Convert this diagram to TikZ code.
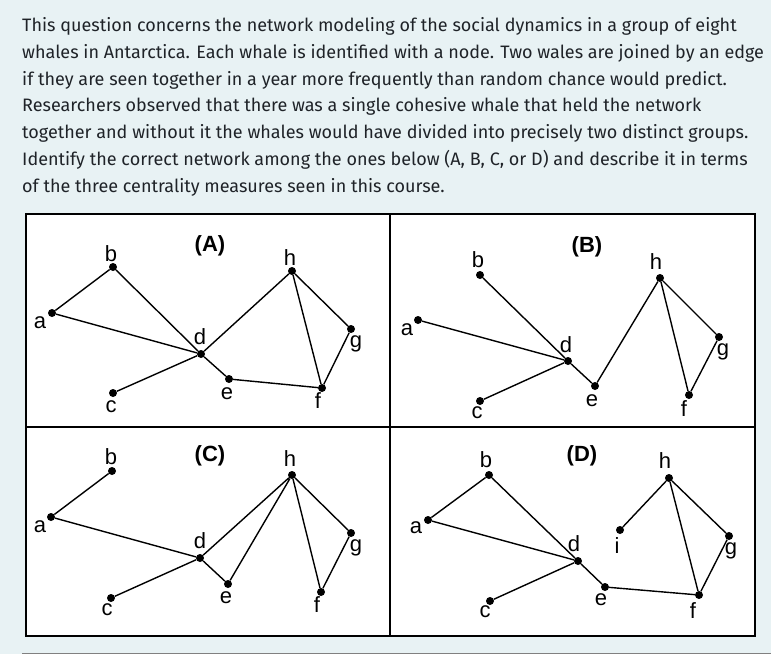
\documentclass[tikz,border=0pt]{standalone}
\usepackage{fontspec}
\setmainfont{Fira Sans}
\newfontfamily\lblfont{Liberation Sans}
\definecolor{bgc}{HTML}{E8F2F4}
\definecolor{txc}{HTML}{1F2328}
\begin{document}
\begin{tikzpicture}[x=1pt,y=-1pt,
  dot/.style={circle,fill=black,inner sep=0pt,minimum size=8pt},
  lbl/.style={inner sep=0pt,font=\lblfont\fontsize{22}{22}\selectfont},
  ttl/.style={inner sep=0pt,font=\lblfont\bfseries\fontsize{22}{22}\selectfont},
  edge/.style={line width=1.4pt},
  para/.style={anchor=base west,inner sep=0pt,text=txc,font=\fontsize{18}{18}\selectfont}]
\useasboundingbox (0,0) rectangle (771,654);
\fill[bgc] (0,0) rectangle (771,654);
\node[para] (t1) at (22,31) {This question concerns the network modeling of the social dynamics in a group of eight};
\node[para] (t2) at (22,58) {whales in Antarctica. Each whale is identified with a node. Two wales are joined by an edge};
\node[para] (t3) at (22,85) {if they are seen together in a year more frequently than random chance would predict.};
\node[para] (t4) at (22,111) {Researchers observed that there was a single cohesive whale that held the network};
\node[para] (t5) at (22,138) {together and without it the whales would have divided into precisely two distinct groups.};
\node[para] (t6) at (22,165) {Identify the correct network among the ones below (A, B, C, or D) and describe it in terms};
\node[para] (t7) at (22,192) {of the three centrality measures seen in this course.};
\draw[fill=white,line width=1.3pt] (26,214) rectangle (755,636);
\draw[line width=1.3pt] (390,214) -- (390,636);
\draw[line width=1.3pt] (26,427) -- (755,427);
\draw[gray,line width=0.8pt] (22,653) -- (771,653);
% Panel A
\node[ttl] (TA) at (210,246) {(A)};
\node[dot] (Aa) at (52,313) {}; \node[lbl] at (40,323) {a};
\node[dot] (Ab) at (113,267) {}; \node[lbl] at (111,254) {b};
\node[dot] (Ac) at (113,393) {}; \node[lbl] at (111,407) {c};
\node[dot] (Ad) at (201,354) {}; \node[lbl] at (200,337) {d};
\node[dot] (Ae) at (229,379) {}; \node[lbl] at (227,394) {e};
\node[dot] (Af) at (322,388) {}; \node[lbl] at (318,401) {f};
\node[dot] (Ag) at (351,329) {}; \node[lbl] at (356,344) {g};
\node[dot] (Ah) at (292,271) {}; \node[lbl] at (290,258) {h};
\draw[edge] (Aa)--(Ab) (Ab)--(Ad) (Aa)--(Ad) (Ac)--(Ad) (Ad)--(Ah) (Ad)--(Ae) (Ae)--(Af) (Ah)--(Af) (Ah)--(Ag) (Ag)--(Af);
% Panel B
\node[ttl] (TB) at (587,247) {(B)};
\node[dot] (Ba) at (418,320) {}; \node[lbl] at (407,330) {a};
\node[dot] (Bb) at (480,275) {}; \node[lbl] at (478,260) {b};
\node[dot] (Bc) at (480,401) {}; \node[lbl] at (477,413) {c};
\node[dot] (Bd) at (568,361) {}; \node[lbl] at (566,345) {d};
\node[dot] (Be) at (595,386) {}; \node[lbl] at (592,401) {e};
\node[dot] (Bf) at (689,395) {}; \node[lbl] at (684,409) {f};
\node[dot] (Bg) at (719,337) {}; \node[lbl] at (723,352) {g};
\node[dot] (Bh) at (660,278) {}; \node[lbl] at (656,262) {h};
\draw[edge] (Bb)--(Bd) (Ba)--(Bd) (Bc)--(Bd) (Bd)--(Be) (Be)--(Bh) (Bh)--(Bf) (Bh)--(Bg) (Bg)--(Bf);
% Panel C
\node[ttl] (TC) at (210,456) {(C)};
\node[dot] (Ca) at (51,517) {}; \node[lbl] at (40,527) {a};
\node[dot] (Cb) at (112,471) {}; \node[lbl] at (111,457) {b};
\node[dot] (Cc) at (111,598) {}; \node[lbl] at (107,610) {c};
\node[dot] (Cd) at (200,558) {}; \node[lbl] at (200,541) {d};
\node[dot] (Ce) at (228,584) {}; \node[lbl] at (226,598) {e};
\node[dot] (Cf) at (321,592) {}; \node[lbl] at (317,605) {f};
\node[dot] (Cg) at (351,533) {}; \node[lbl] at (356,548) {g};
\node[dot] (Ch) at (292,475) {}; \node[lbl] at (290,459) {h};
\draw[edge] (Ca)--(Cb) (Ca)--(Cd) (Cc)--(Cd) (Cd)--(Ch) (Cd)--(Ce) (Ce)--(Ch) (Ch)--(Cf) (Ch)--(Cg) (Cg)--(Cf);
% Panel D
\node[ttl] (TD) at (582,456) {(D)};
\node[dot] (Da) at (428,520) {}; \node[lbl] at (416,528) {a};
\node[dot] (Db) at (489,475) {}; \node[lbl] at (486,460) {b};
\node[dot] (Dc) at (490,601) {}; \node[lbl] at (485,612) {c};
\node[dot] (Dd) at (578,561) {}; \node[lbl] at (574,544) {d};
\node[dot] (De) at (605,587) {}; \node[lbl] at (601,600) {e};
\node[dot] (Df) at (699,595) {}; \node[lbl] at (693,611) {f};
\node[dot] (Dg) at (729,536) {}; \node[lbl] at (731,551) {g};
\node[dot] (Dh) at (669,478) {}; \node[lbl] at (665,461) {h};
\node[dot] (Di) at (620,530) {}; \node[lbl] at (617,546) {i};
\draw[edge] (Da)--(Db) (Db)--(Dd) (Da)--(Dd) (Dc)--(Dd) (Dd)--(De) (De)--(Df) (Dh)--(Di) (Dh)--(Df) (Dh)--(Dg) (Dg)--(Df);
\end{tikzpicture}
\end{document}
